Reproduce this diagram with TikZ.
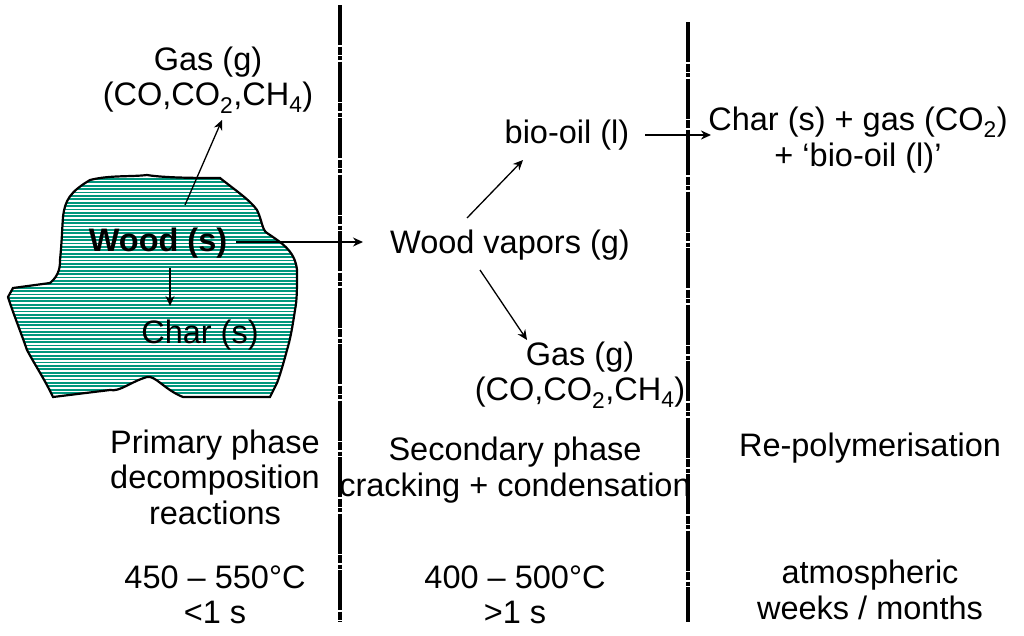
\documentclass[tikz,border=0pt]{standalone}
\usepackage{fontspec}
\setmainfont{Liberation Sans}
\usetikzlibrary{arrows.meta}
\definecolor{teal1}{RGB}{0,150,125}
\newcommand{\sbs}[1]{\textsubscript{#1}}
\begin{document}
\begin{tikzpicture}[x=1pt,y=-1pt,
  lbl/.style={font=\fontsize{32.5}{35.5}\selectfont,align=center,inner sep=0pt},
  arr/.style={-{Stealth[length=10,width=9]},line width=1.3},
  vline/.style={line width=4.5,dash pattern=on 40 off 1.5 on 8 off 1.5 on 4 off 1.5}]
\useasboundingbox (0,0) rectangle (1024,635);
\def\blob{(90,180) .. controls (110,175) and (130,177) .. (147,175) .. controls (165,178) and (200,178) .. (220,178) .. controls (235,190) and (250,200) .. (257,210) .. controls (262,220) and (262,230) .. (267,233) .. controls (280,242) and (295,250) .. (297,270) .. controls (297,290) and (297,300) .. (295,310) .. controls (292,330) and (290,340) .. (287,350) .. controls (283,365) and (280,375) .. (277,383) -- (270,397) -- (183,397) .. controls (165,390) and (155,375) .. (147,377) .. controls (130,382) and (120,392) .. (110,390) -- (53,397) .. controls (45,380) and (35,365) .. (27,350) .. controls (20,330) and (12,310) .. (8,297) -- (13,288) -- (50,283) .. controls (60,275) and (60,265) .. (60,260) .. controls (62,240) and (62,230) .. (63,217) .. controls (65,200) and (70,192) .. (90,180) -- cycle}
\fill[white] \blob;
\begin{scope}
\clip \blob;
\foreach \yy in {172,175.4,...,400} \draw[teal1,line width=1.8] (0,\yy) -- (300,\yy);
\end{scope}
\draw[line width=2.2] \blob;
\draw[vline] (340,5) -- (340,622);
\draw[vline] (688,22) -- (688,622);
\node[lbl] (gas1) at (208,80) {Gas (g)\\(CO,CO\sbs{2},CH\sbs{4})};
\node[lbl,font=\fontsize{32.5}{35.5}\selectfont\bfseries] (wood) at (158,243) {Wood (s)};
\node[lbl] (char) at (200,335) {Char (s)};
\node[lbl] (vap) at (510,245) {Wood vapors (g)};
\node[lbl] (oil) at (567,135) {bio-oil (l)};
\node[lbl] (prod) at (858,140) {Char (s) + gas (CO\sbs{2})\\+ ‘bio-oil (l)’};
\node[lbl] (gas2) at (580,375) {Gas (g)\\(CO,CO\sbs{2},CH\sbs{4})};
\node[lbl] (p1) at (215,477) {Primary phase\\decomposition\\reactions};
\node[lbl] (p2) at (515,470) {Secondary phase\\cracking + condensation};
\node[lbl] (p3) at (870,448) {Re-polymerisation};
\node[lbl] (t1) at (215,595) {450 – 550°C\\<1 s};
\node[lbl] (t2) at (515,595) {400 – 500°C\\>1 s};
\node[lbl] (t3) at (870,590) {atmospheric\\weeks / months};
\coordinate (w1) at (185,205);
\draw[arr] (w1) -- (222,120);
\draw[arr] (236,242) -- (363,242);
\draw[arr] (170,268) -- (170,306);
\draw[arr] (467,218) -- (523,160);
\draw[arr] (480,270) -- (527,340);
\draw[arr,line width=2.4] (645,135) -- (711,135);
\end{tikzpicture}
\end{document}
